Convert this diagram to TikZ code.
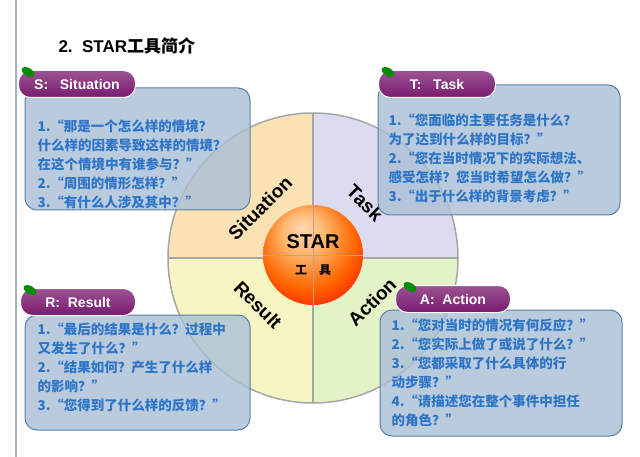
\documentclass[tikz,border=0pt]{standalone}
\usepackage{fontspec}
\setmainfont{Liberation Sans}
\newfontfamily\cjk{Noto Sans CJK SC}
\usetikzlibrary{shadings}
\definecolor{txtblue}{HTML}{2E75C8}
\definecolor{boxfill}{HTML}{A9BFD6}
\definecolor{boxline}{HTML}{5A7FA8}
\definecolor{pill}{HTML}{7A1A70}
\definecolor{qtl}{HTML}{FBE2B4}
\definecolor{qtr}{HTML}{DCDCF0}
\definecolor{qbl}{HTML}{F6F6C4}
\definecolor{qbr}{HTML}{E4F2C8}
\pgfdeclareradialshading{ballsh}{\pgfpoint{-6bp}{14bp}}{color(0bp)=(orange!30!white);color(10bp)=(orange!55!white);color(24bp)=(orange!80!red);color(34bp)=(red!75!orange);color(50bp)=(red!80!black)}
\tikzset{
 infobox/.style={draw=boxline,line width=1pt,fill=boxfill,fill opacity=0.8,text opacity=1,rounded corners=12pt},
 pilltag/.style={draw=white,line width=1pt,top color=pill!75!white,bottom color=pill,rounded corners=12pt,text=white,font=\bfseries\fontsize{14}{16}\selectfont,anchor=west,inner xsep=10pt,minimum height=27pt},
 txt/.style={text=txtblue,font=\cjk\bfseries\fontsize{13.5}{19}\selectfont,align=left,anchor=north west},
 quadlbl/.style={font=\bfseries\fontsize{19}{21}\selectfont},
 leaf/.style={fill=green!55!black}
}
\begin{document}
\begin{tikzpicture}[x=1pt,y=-1pt]
\useasboundingbox (0,0) rectangle (640,457);
\fill[white] (0,0) rectangle (640,457);
\draw[boxline!60,line width=2pt] (16,0) -- (16,457);
\node[anchor=west,font=\bfseries\fontsize{17}{19}\selectfont] (title) at (55,46) {2.\ \ STAR{\cjk 工具简介}};
% big circle
\coordinate (c) at (313,258);
\begin{scope}
\clip (c) circle[radius=145];
\fill[qtl] (168,113) rectangle (313,258);
\fill[qtr] (313,113) rectangle (458,258);
\fill[qbl] (168,258) rectangle (313,403);
\fill[qbr] (313,258) rectangle (458,403);
\end{scope}
\draw[gray!70,line width=1.5pt] (c) circle[radius=145];
\draw[gray!70,line width=1.5pt] (168,258) -- (458,258) (313,113) -- (313,403);
\shade[shading=ballsh] (313,255) circle[radius=50];
\draw[red!50!black!40,line width=0.6pt] (263,255)--(363,255) (313,205)--(313,305);
\node[font=\bfseries\fontsize{20}{22}\selectfont] (star) at (313,242) {STAR};
\node[font=\cjk\bfseries\fontsize{12}{14}\selectfont] (gj) at (313,270) {工\quad 具};
\node[quadlbl,rotate=45] (qs) at (260,208) {Situation};
\node[quadlbl,rotate=-45] (qt) at (365,203) {Task};
\node[quadlbl,rotate=-45] (qr) at (258,305) {Result};
\node[quadlbl,rotate=45] (qa) at (372,302) {Action};
% boxes
\draw[infobox] (25,88) rectangle (250,210);
\draw[infobox] (378,85) rectangle (620,215);
\draw[infobox] (25,315) rectangle (250,430);
\draw[infobox] (380,310) rectangle (622,436);
\node[pilltag,minimum width=117pt] (ps) at (18,84) {S:\ \ \ Situation};
\node[pilltag,minimum width=117pt] (pt) at (378,84) {T:\ \ \ Task};
\node[pilltag,minimum width=115pt] (pr) at (20,302) {R:\ \ Result};
\node[pilltag,minimum width=115pt] (pa) at (395,299) {A:\ \ Action};
\foreach \x/\y in {28/72,388/72,30/290,410/287}{\fill[leaf,rotate around={-30:(\x,\y)}] (\x,\y) ellipse[x radius=7pt,y radius=4pt];}
\node[txt] (ts) at (34,116) {1.“那是一个怎么样的情境？\\什么样的因素导致这样的情境？\\在这个情境中有谁参与？”\\2.“周围的情形怎样？”\\3.“有什么人涉及其中？”};
\node[txt] (tt) at (385,110) {1.“您面临的主要任务是什么？\\为了达到什么样的目标？”\\2.“您在当时情况下的实际想法、\\感受怎样？您当时希望怎么做？”\\3.“出于什么样的背景考虑？”};
\node[txt] (tr) at (34,319) {1.“最后的结果是什么？过程中\\又发生了什么？”\\2.“结果如何？产生了什么样\\的影响？”\\3.“您得到了什么样的反馈？”};
\node[txt] (ta) at (388,315) {1.“您对当时的情况有何反应？”\\2.“您实际上做了或说了什么？”\\3.“您都采取了什么具体的行\\动步骤？”\\4.“请描述您在整个事件中担任\\的角色？”};
\end{tikzpicture}
\end{document}
